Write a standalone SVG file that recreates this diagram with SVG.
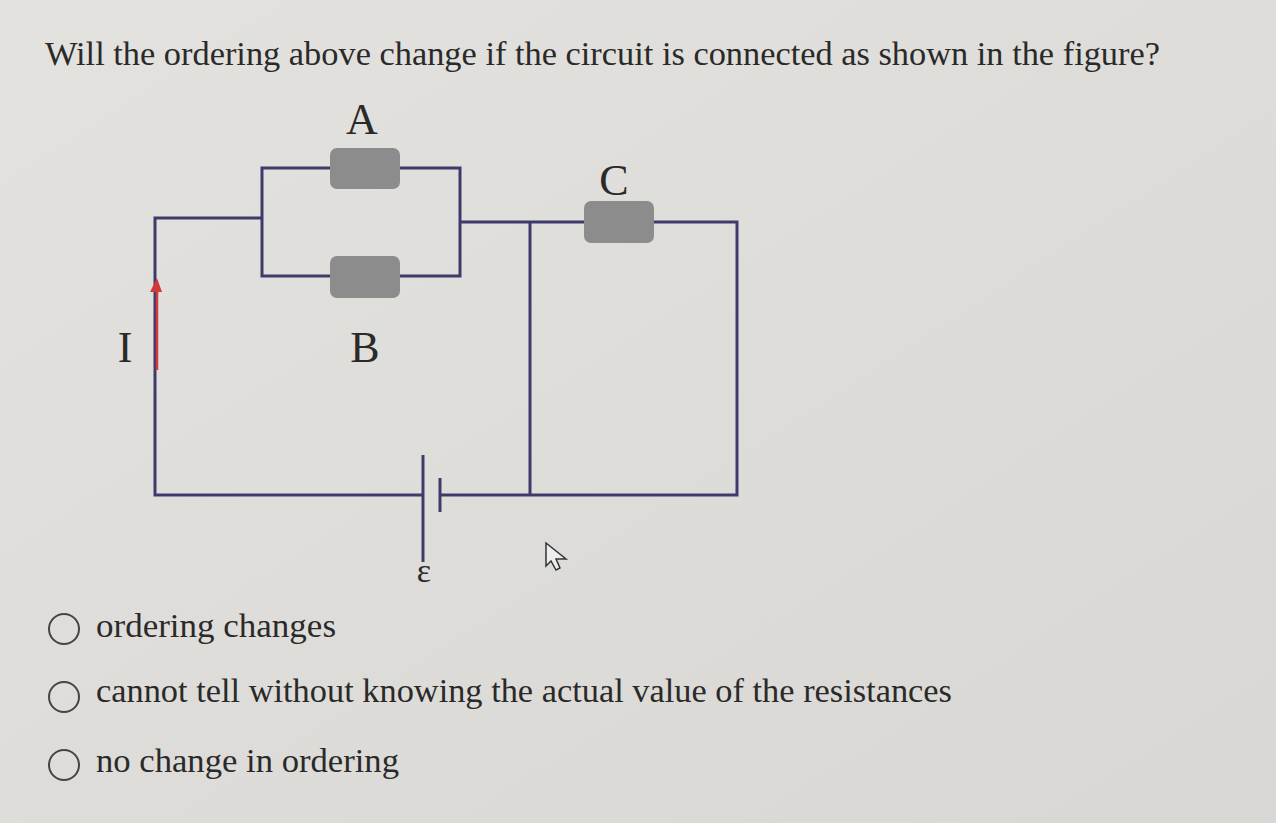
<svg xmlns="http://www.w3.org/2000/svg" width="1276" height="823" viewBox="0 0 1276 823">
<defs>
<linearGradient id="bg" x1="0" y1="0" x2="1" y2="1"><stop offset="0" stop-color="#e4e2de"/><stop offset="1" stop-color="#d9d7d3"/></linearGradient>
<style>
.t{font-family:"Liberation Serif",serif;fill:#2a2a2a}
.w{stroke:#3e3a6c;stroke-width:3;fill:none}
.r{fill:#8c8c8c}
.o{fill:none;stroke:#444;stroke-width:2}
</style>
</defs>
<rect width="1276" height="823" fill="url(#bg)"/>
<text class="t" x="45" y="65" font-size="33" textLength="1115" lengthAdjust="spacingAndGlyphs">Will the ordering above change if the circuit is connected as shown in the figure?</text>
<g id="wires">
<path class="w" d="M423,495 H155 V218 H262 M262,168 H460 V276 H262 Z M460,222 H737 V495 H440 M530,222 V495"/>
<line x1="423" y1="455" x2="423" y2="562" stroke="#3e3a6c" stroke-width="3"/>
<line x1="440" y1="478" x2="440" y2="512" stroke="#3e3a6c" stroke-width="3"/>
<path d="M157,370 V288" stroke="#d03a3a" stroke-width="2.5"/>
<path d="M150,292 L157,278 L162,292 Z" fill="#d03a3a"/>
</g>
<g id="A"><rect class="r" x="330" y="148" width="70" height="41" rx="7"/><text class="t" x="362" y="134" font-size="44" text-anchor="middle">A</text></g>
<g id="B"><rect class="r" x="330" y="256" width="70" height="42" rx="7"/><text class="t" x="365" y="362" font-size="44" text-anchor="middle">B</text></g>
<g id="C"><rect class="r" x="584" y="201" width="70" height="42" rx="7"/><text class="t" x="614" y="195" font-size="44" text-anchor="middle">C</text></g>
<text class="t" x="125" y="362" font-size="44" text-anchor="middle">I</text>
<text class="t" x="424" y="582" font-size="34" text-anchor="middle">ε</text>
<path d="M546,543 L546,566 L551,561 L556,570 L560,568 L556,559 L566,559 Z" fill="#eee" stroke="#333" stroke-width="1.5"/>
<circle class="o" cx="64" cy="629" r="15"/><text class="t" x="96" y="637" font-size="33" textLength="240" lengthAdjust="spacingAndGlyphs">ordering changes</text>
<circle class="o" cx="64" cy="697" r="15"/><text class="t" x="96" y="702" font-size="33" textLength="856" lengthAdjust="spacingAndGlyphs">cannot tell without knowing the actual value of the resistances</text>
<circle class="o" cx="64" cy="765" r="15"/><text class="t" x="96" y="772" font-size="33" textLength="303" lengthAdjust="spacingAndGlyphs">no change in ordering</text>
</svg>
